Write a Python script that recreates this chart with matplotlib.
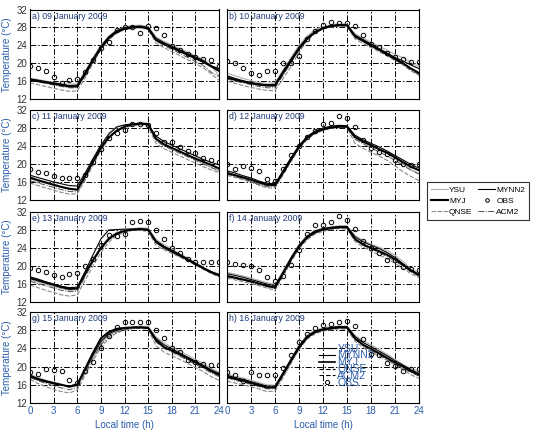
import matplotlib
matplotlib.use('Agg')
import matplotlib.pyplot as plt
from matplotlib.lines import Line2D

plt.rcParams['font.family'] = ['Liberation Sans', 'DejaVu Sans']

hours = list(range(25))
titles = ['a) 09 January 2009', 'b) 10 January 2009', 'c) 11 January 2009', 'd) 12 January 2009',
          'e) 13 January 2009', 'f) 14 January 2009', 'g) 15 January 2009', 'h) 16 January 2009']
x_ticks = [0, 3, 6, 9, 12, 15, 18, 21, 24]
y_ticks = [12, 16, 20, 24, 28, 32]

# one row per panel (a..h), hourly values 0..24 h
ysu = [
    [16.6,16.4,16.0,15.7,15.5,15.3,15.4,18.2,21.2,24.0,26.1,27.4,28.1,28.4,28.5,28.2,25.9,24.9,24.1,23.3,22.5,21.7,20.9,19.6,17.2],
    [17.8,17.2,16.6,16.1,15.7,15.5,15.6,18.5,21.3,24.0,26.1,27.5,28.2,28.6,28.8,28.7,26.6,25.6,24.7,23.8,22.9,22.0,21.2,20.2,19.2],
    [16.7,16.2,15.7,15.2,14.8,14.4,14.2,17.2,20.6,24.0,26.9,28.3,28.6,28.8,28.9,28.6,25.4,24.3,23.5,22.7,21.9,21.1,20.3,19.3,18.4],
    [18.2,17.6,17.1,16.4,15.6,15.2,15.2,18.3,21.3,24.0,26.0,27.2,27.9,28.3,28.5,28.4,25.7,24.8,24.0,23.2,22.3,21.2,20.0,18.8,17.8],
    [16.9,16.4,15.9,15.4,15.0,14.6,14.7,17.9,21.2,24.2,26.4,27.5,28.0,28.3,28.5,28.4,25.9,24.8,23.8,22.8,21.8,20.8,19.8,18.9,18.2],
    [18.6,18.2,17.8,17.3,16.8,16.3,15.9,18.9,22.0,24.8,26.8,27.9,28.4,28.7,28.9,28.9,26.8,25.7,24.9,24.2,23.4,22.4,21.0,19.4,18.4],
    [18.3,17.6,17.0,16.5,16.0,15.4,15.8,19.0,22.2,25.1,26.9,27.8,28.3,28.7,28.9,28.9,26.5,25.2,24.3,23.4,22.5,21.6,20.7,19.6,18.8],
    [18.4,17.9,17.5,17.0,16.5,16.0,15.9,18.8,21.8,24.7,26.9,28.0,28.5,28.8,28.9,28.9,26.9,25.7,24.8,23.8,22.7,21.6,20.5,19.6,18.9],
]
mynn2 = [
    [16.5,16.2,15.9,15.6,15.3,15.0,15.1,18.0,21.0,23.8,25.9,27.3,27.9,28.2,28.3,28.0,25.6,24.6,23.8,23.0,22.2,21.4,20.6,19.4,18.8],
    [17.2,16.6,16.1,15.7,15.4,15.2,15.3,18.2,20.9,23.6,25.7,27.1,27.9,28.4,28.6,28.5,26.3,25.3,24.3,23.3,22.3,21.3,20.5,19.6,18.8],
    [17.5,17.0,16.5,16.0,15.6,15.2,15.1,18.0,21.2,24.2,26.6,28.2,28.7,28.9,29.0,28.7,26.2,25.0,24.2,23.4,22.6,21.8,21.0,20.4,19.8],
    [18.5,18.0,17.4,16.9,16.2,15.7,15.6,18.5,21.4,24.1,26.1,27.3,28.0,28.4,28.6,28.5,26.4,25.4,24.6,23.8,22.9,21.9,20.9,19.9,19.1],
    [17.6,17.1,16.5,16.0,15.5,15.2,15.3,18.8,22.5,26.0,28.0,28.1,28.2,28.2,28.2,28.0,25.2,24.0,23.1,22.2,21.3,20.4,19.5,18.7,18.1],
    [18.3,17.9,17.5,17.0,16.5,16.0,15.6,18.6,21.8,24.6,26.6,27.8,28.3,28.6,28.8,28.8,26.5,25.4,24.6,23.9,23.0,21.9,20.5,19.1,18.1],
    [17.8,17.1,16.6,16.2,15.9,15.7,16.2,19.2,22.5,25.5,27.2,28.0,28.4,28.6,28.7,28.6,26.2,24.8,23.9,23.0,22.1,21.2,20.3,19.3,18.5],
    [18.1,17.6,17.2,16.7,16.2,15.7,15.7,18.6,21.6,24.5,26.7,27.8,28.3,28.6,28.8,28.8,26.6,25.3,24.4,23.4,22.4,21.3,20.3,19.3,18.5],
]
myj = [
    [16.3,16.0,15.7,15.4,15.1,14.8,14.8,17.6,20.6,23.4,25.6,27.0,27.7,28.0,28.1,27.8,25.2,24.3,23.5,22.7,21.9,21.1,20.3,19.3,18.3],
    [16.8,16.3,15.9,15.5,15.2,15.0,15.0,17.8,20.5,23.2,25.4,26.9,27.8,28.3,28.5,28.5,26.0,25.0,24.0,23.0,22.0,21.0,20.0,18.8,17.8],
    [17.0,16.4,15.9,15.4,14.9,14.5,14.3,17.3,20.5,23.6,25.9,27.4,28.3,28.8,29.0,28.9,25.6,24.4,23.6,22.8,22.0,21.2,20.5,19.8,19.0],
    [18.0,17.5,17.0,16.5,15.9,15.4,15.3,18.1,21.0,23.8,25.8,27.0,27.7,28.1,28.3,28.3,26.0,25.0,24.2,23.3,22.5,21.5,20.4,19.4,18.6],
    [17.3,16.8,16.3,15.8,15.3,14.9,15.0,18.3,21.3,24.0,26.0,27.2,27.8,28.1,28.2,28.1,25.5,24.3,23.4,22.5,21.5,20.5,19.5,18.6,17.9],
    [17.8,17.4,17.0,16.6,16.1,15.6,15.2,18.3,21.5,24.3,26.3,27.5,28.1,28.4,28.6,28.6,26.0,24.8,24.0,23.3,22.5,21.5,20.3,19.0,18.0],
    [18.0,17.3,16.8,16.4,16.0,15.6,16.0,19.5,23.0,26.2,27.6,28.3,28.5,28.6,28.6,28.5,25.8,24.3,23.5,22.7,21.8,20.9,20.0,19.0,18.2],
    [17.8,17.3,16.9,16.4,15.9,15.4,15.4,18.3,21.3,24.2,26.4,27.6,28.1,28.4,28.6,28.6,26.2,24.8,23.9,22.9,21.9,20.9,20.0,19.0,18.2],
]
qnse = [
    [15.6,15.2,14.8,14.4,14.0,13.7,13.8,16.7,20.0,23.0,25.2,26.7,27.5,27.8,27.9,27.5,24.5,23.5,22.6,21.7,20.8,19.9,19.0,17.6,16.2],
    [16.0,15.5,15.0,14.6,14.2,13.9,13.9,16.5,19.3,22.4,25.0,26.7,27.6,28.1,28.3,28.2,25.4,24.4,23.5,22.6,21.6,20.6,19.6,18.3,17.3],
    [15.8,15.2,14.7,14.2,13.7,13.3,13.4,16.3,19.7,23.0,25.6,27.2,28.0,28.5,28.7,28.3,24.6,23.4,22.6,21.8,21.0,20.2,19.4,18.7,18.1],
    [17.5,17.0,16.5,16.0,15.3,14.7,14.7,17.5,20.5,23.4,25.4,26.7,27.5,27.9,28.1,28.1,24.6,23.5,22.6,21.8,20.8,19.6,18.3,17.2,16.3],
    [15.8,15.2,14.6,14.1,13.6,13.3,13.6,16.8,20.0,23.0,25.3,26.8,27.5,27.9,28.0,27.6,24.6,23.6,22.8,22.0,21.1,20.2,19.3,18.3,17.6],
    [17.3,16.9,16.5,16.1,15.6,15.1,14.6,17.6,20.9,23.8,25.8,27.1,27.7,28.1,28.3,28.2,25.4,24.2,23.3,22.5,21.6,20.6,19.5,18.3,17.4],
    [17.2,16.3,15.6,15.0,14.5,14.2,14.9,18.0,21.3,24.2,26.2,27.4,28.0,28.3,28.4,28.2,24.6,23.2,22.4,21.6,20.7,19.8,18.9,17.8,17.0],
    [16.8,16.4,16.0,15.6,15.1,14.5,14.6,17.5,20.7,23.7,26.0,27.2,27.8,28.1,28.3,28.2,25.6,24.2,23.2,22.3,21.4,20.4,19.3,18.2,17.4],
]
acm2 = [
    [16.2,15.8,15.5,15.1,14.8,14.5,14.5,17.3,20.3,23.2,25.4,26.9,27.6,27.9,28.0,27.7,25.0,24.0,23.1,22.2,21.3,20.4,19.5,18.0,17.0],
    [16.5,16.0,15.6,15.2,14.8,14.5,14.5,17.3,20.1,23.0,25.3,26.8,27.7,28.2,28.4,28.4,25.8,24.8,23.8,22.9,21.8,20.8,19.8,18.4,17.5],
    [16.3,15.8,15.3,14.8,14.3,13.9,13.8,16.8,20.1,23.3,25.8,27.3,28.2,28.7,28.9,28.7,25.2,24.0,23.2,22.4,21.6,20.8,20.0,19.2,18.6],
    [17.8,17.2,16.7,16.1,15.4,15.0,14.9,17.8,20.8,23.6,25.6,26.9,27.6,28.0,28.2,28.2,25.5,24.5,23.6,22.7,21.8,20.8,19.7,18.6,17.8],
    [16.6,16.1,15.6,15.1,14.6,14.3,14.4,17.6,20.9,23.8,25.9,27.1,27.7,28.0,28.1,27.9,25.3,24.2,23.3,22.4,21.5,20.6,19.7,18.8,18.2],
    [17.6,17.2,16.8,16.4,15.9,15.4,15.0,18.1,21.3,24.1,26.1,27.3,28.0,28.3,28.5,28.5,25.8,24.6,23.8,23.0,22.1,21.1,20.0,18.7,17.7],
    [17.6,16.9,16.3,15.8,15.3,14.9,15.4,18.6,21.8,24.8,26.6,27.6,28.1,28.4,28.5,28.4,25.4,24.0,23.2,22.3,21.4,20.5,19.6,18.6,17.8],
    [17.5,17.0,16.6,16.1,15.6,15.1,15.1,18.0,21.1,24.0,26.2,27.4,28.0,28.3,28.5,28.5,26.0,24.6,23.6,22.6,21.6,20.6,19.6,18.7,17.9],
]
obs = [
    [19.4,19.0,18.2,17.0,15.6,16.2,16.4,18.1,20.8,23.4,24.7,27.4,28.1,28.0,26.8,28.4,27.8,26.2,23.8,22.9,22.1,21.3,21.0,20.8,19.3],
    [20.4,20.0,18.9,17.8,17.3,18.3,18.3,20.1,20.0,21.6,25.3,27.2,28.5,29.2,29.0,29.0,28.3,26.2,24.4,23.6,22.2,21.3,20.9,20.2,20.2],
    [19.0,18.3,17.9,17.3,16.8,17.0,16.8,17.6,20.4,23.3,25.7,26.8,27.6,28.8,29.0,28.6,26.8,25.0,25.0,23.8,23.0,22.5,21.3,20.8,20.5],
    [20.1,19.0,19.5,19.1,18.4,16.7,16.3,19.0,22.0,24.1,25.9,27.3,28.9,29.1,30.7,30.2,28.3,25.3,23.6,22.6,22.3,20.8,20.1,19.7,19.9],
    [19.6,19.1,18.6,17.9,17.5,18.3,18.4,19.9,21.5,24.6,26.8,26.7,27.1,29.8,30.1,29.7,28.1,26.1,24.0,23.0,21.6,21.0,20.9,20.9,20.9],
    [20.9,20.4,20.3,19.9,19.2,17.5,16.7,17.7,20.3,23.6,27.1,29.2,29.2,29.8,31.2,30.2,28.3,25.5,24.0,22.9,21.4,21.4,19.8,19.3,19.2],
    [18.8,18.4,19.5,19.2,19.0,17.0,16.5,19.0,21.1,24.0,26.7,28.8,29.7,29.9,29.7,29.7,28.1,26.2,24.1,23.2,21.5,21.1,20.6,20.4,20.4],
    [18.8,18.1,16.9,18.8,18.1,18.1,18.1,19.7,22.6,25.3,27.2,28.4,29.2,29.4,29.8,30.1,28.9,26.1,22.8,22.6,20.9,20.1,19.0,19.5,19.5],
]

blue = '#2a5caa'
navy = '#1f3a7a'

fig = plt.figure(figsize=(5.38, 4.33), dpi=100)

# panel boxes in pixels (left, top, right, bottom) of the 538x433 figure
col_px = [(30, 219), (227, 419)]
row_px = [(9.5, 99), (110, 200), (212, 302), (312, 403)]

axes = []
for i in range(8):
    r, c = divmod(i, 2)
    x0, x1 = col_px[c]
    y0, y1 = row_px[r]
    ax = fig.add_axes([x0 / 538, 1 - y1 / 433, (x1 - x0) / 538, (y1 - y0) / 433])
    axes.append(ax)

    l_ysu, = ax.plot(hours, ysu[i], color='#b0b0b0', lw=0.8)
    l_qnse, = ax.plot(hours, qnse[i], color='#8a8a8a', lw=0.8, ls=(0, (4, 1.5)))
    l_acm2, = ax.plot(hours, acm2[i], color='#505050', lw=0.7, ls=(0, (6, 1.5, 1, 1.5)))
    l_mynn2, = ax.plot(hours, mynn2[i], color='black', lw=0.8)
    l_myj, = ax.plot(hours, myj[i], color='black', lw=1.5)
    l_obs, = ax.plot(hours, obs[i], 'o', mfc='none', mec='black', ms=3.2, mew=0.7)

    ax.set_xlim(0, 24)
    ax.set_ylim(12, 32)
    ax.set_xticks(x_ticks)
    ax.set_yticks(y_ticks)
    ax.grid(True, color='black', lw=0.7, ls=(0, (6, 2, 1.5, 2)))
    ax.tick_params(length=0, pad=2, labelsize=7)
    for sp in ax.spines.values():
        sp.set_linewidth(0.8)
    ax.text(0.01, 0.975, titles[i], transform=ax.transAxes, ha='left', va='top',
            fontsize=6.3, color=navy)

    if c == 0:
        ax.set_ylabel('Temperature (°C)', fontsize=7, color=blue, labelpad=3)
        for t in ax.get_yticklabels():
            t.set_color('#333333')
    else:
        ax.set_yticklabels([])
    if r == 3:
        ax.set_xlabel('Local time (h)', fontsize=7, color=blue, labelpad=3)
        for t in ax.get_xticklabels():
            t.set_color(blue)
    else:
        ax.set_xticklabels([])

# main legend on the right
fig.legend([l_ysu, l_myj, l_qnse, l_mynn2, l_obs, l_acm2],
           ['YSU', 'MYJ', 'QNSE', 'MYNN2', 'OBS', 'ACM2'],
           ncol=2, loc='upper left', bbox_to_anchor=(427 / 538, 1 - 182 / 433),
           fontsize=6, frameon=True, fancybox=False, edgecolor='black',
           handlelength=2.0, handletextpad=0.15, columnspacing=0.7,
           labelspacing=0.35, borderpad=0.5, borderaxespad=0, markerscale=0.8)
leg = fig.legends[0]
leg.get_frame().set_linewidth(0.8)

# stray legend left inside panel h
h_handles = [Line2D([], [], color='black', lw=0.8),
             Line2D([], [], color='black', lw=0.8),
             Line2D([], [], color='black', lw=1.2),
             Line2D([], [], color='black', lw=0.8, ls=(0, (4, 2))),
             Line2D([], [], color='black', lw=0.8, ls=(0, (4, 2))),
             Line2D([], [], ls='none', marker='o', mfc='none', mec='black', ms=3, mew=0.7)]
axes[7].legend(h_handles, ['YSU', 'MYNN2', 'MYJ', 'QNSE', 'ACM2', 'OBS'],
               loc='upper left', bbox_to_anchor=(0.45, 0.71), frameon=False,
               fontsize=7.5, labelspacing=-0.3, handlelength=1.6, handletextpad=0.2,
               borderpad=0, labelcolor=blue)

fig.savefig('out.png', dpi=100)
plt.close(fig)
